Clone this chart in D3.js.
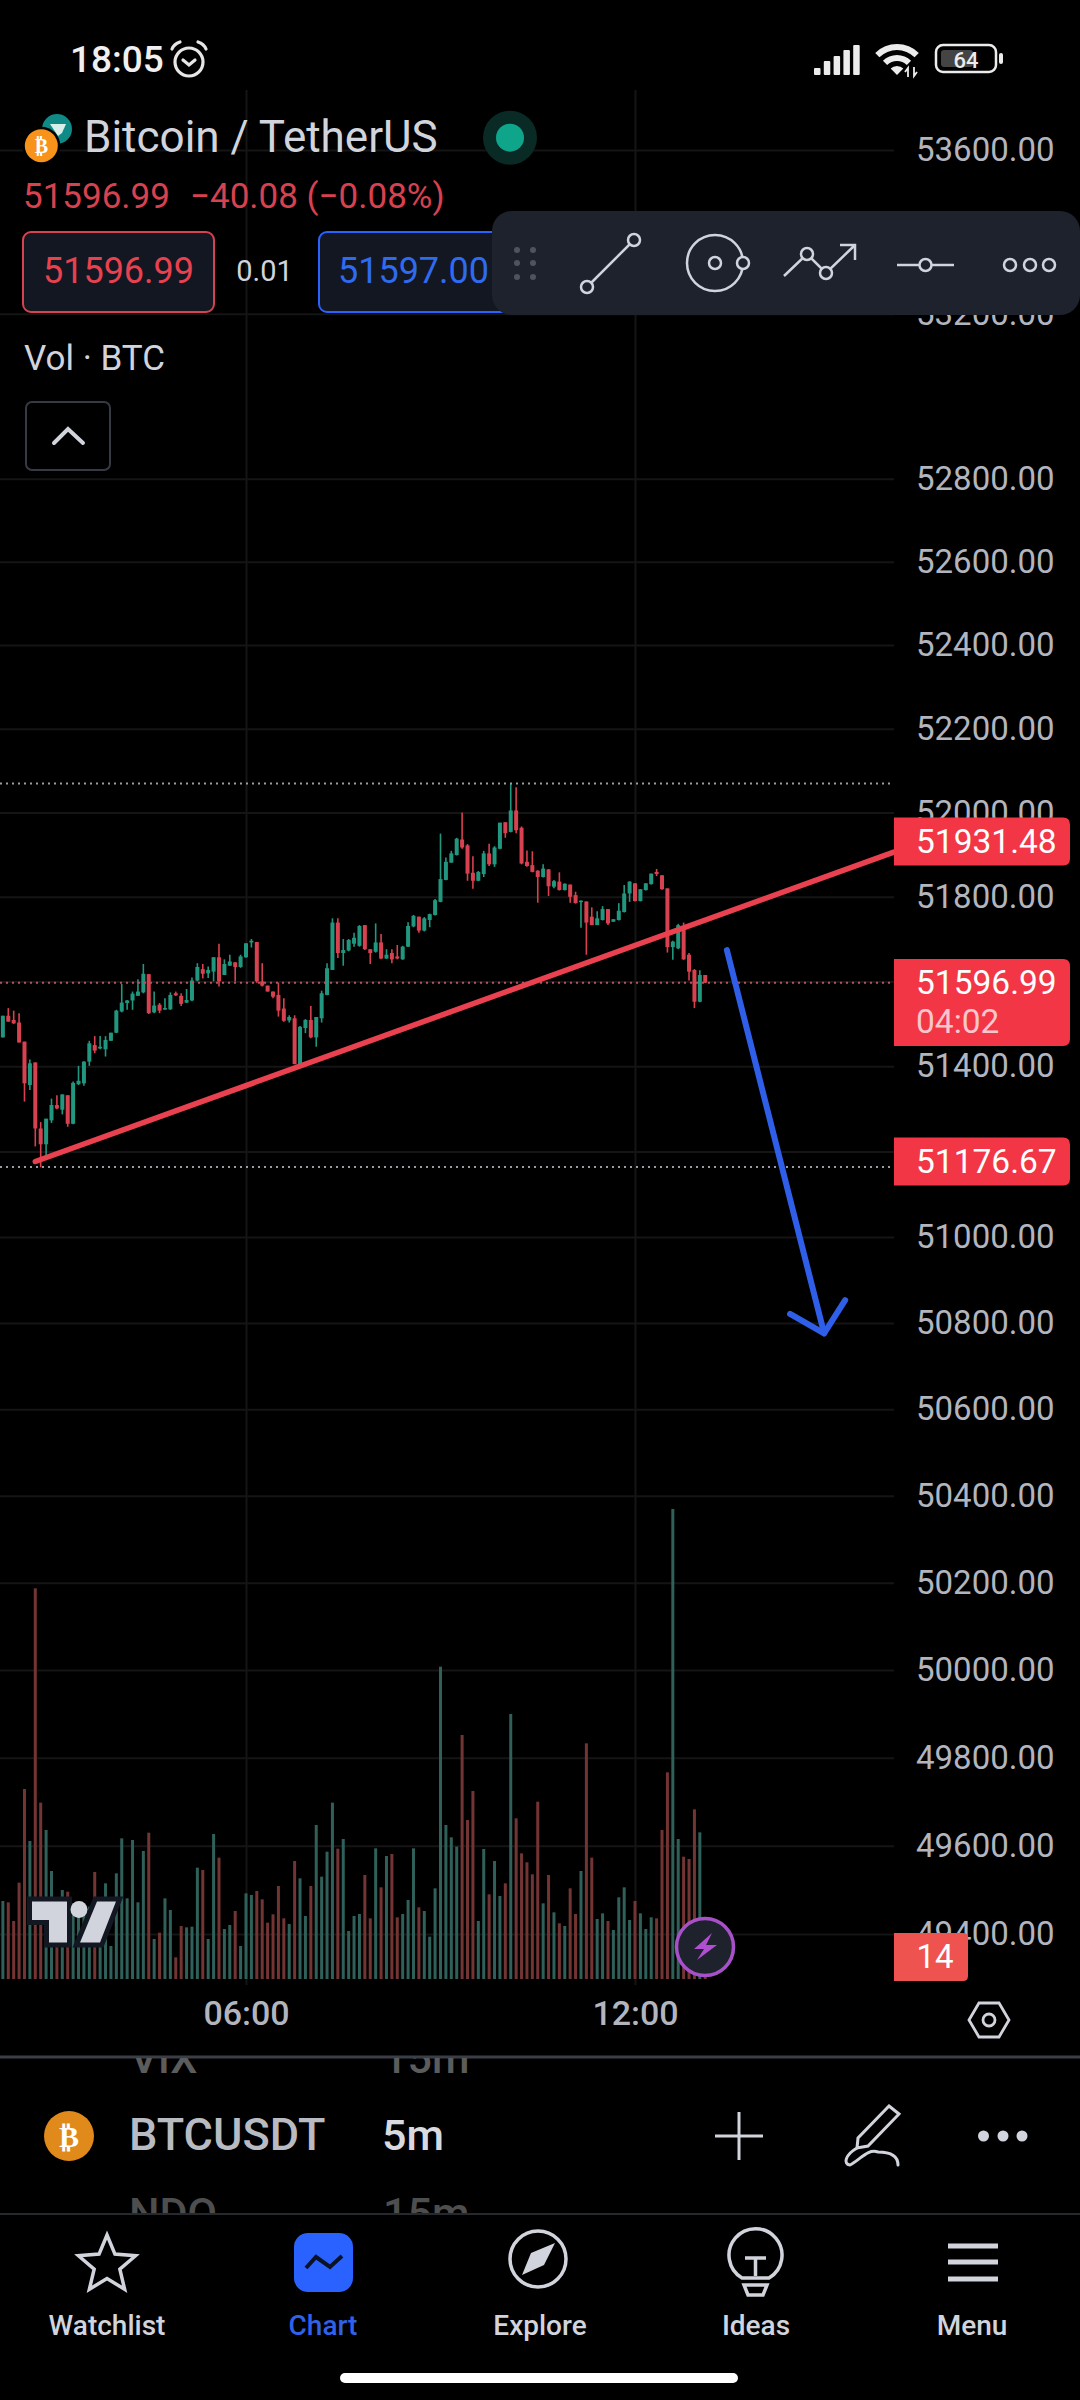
<!DOCTYPE html>
<html>
<head>
<meta charset="utf-8">
<title>BTCUSDT</title>
<script src="https://cdnjs.cloudflare.com/ajax/libs/d3/7.8.5/d3.min.js"></script>
<style>
  html, body { margin: 0; padding: 0; background: #000; }
  svg { display: block; font-family: Roboto, sans-serif; }
</style>
</head>
<body>
<svg id="chart" width="1080" height="2400"></svg>
<script>
// 5 minute candles, oldest first
var opens = [
  51468,51519,51509,51503,51458,51356,51409,51254,51217,51273,
  51309,51298,51332,51265,51358,51360,51411,51450,51442,51440,
  51460,51479,51529,51549,51555,51566,51574,51617,51527,51545,
  51534,51534,51572,51566,51550,51555,51602,51629,51619,51623,
  51657,51615,51637,51645,51634,51657,51692,51693,51600,51590,
  51576,51568,51536,51508,51513,51405,51490,51509,51468,51513,
  51568,51627,51739,51667,51673,51689,51684,51733,51676,51670,
  51692,51654,51667,51659,51652,51682,51730,51753,51720,51745,
  51757,51788,51840,51881,51899,51936,51922,51857,51838,51854,
  51903,51877,51914,51977,51954,52005,51964,51883,51875,51862,
  51847,51865,51824,51836,51816,51829,51804,51788,51789,51753,
  51733,51745,51771,51741,51745,51764,51808,51832,51790,51816,
  51830,51859,51851,51820,51681,51678,51726,51663,51627,51552,
  51615];
var highs = [
  51519,51537,51531,51525,51458,51416,51409,51269,51277,51324,
  51332,51334,51332,51364,51401,51412,51460,51471,51471,51471,
  51479,51533,51594,51556,51576,51605,51641,51617,51576,51549,
  51560,51574,51576,51572,51582,51609,51643,51641,51635,51657,
  51689,51652,51663,51645,51663,51690,51700,51693,51643,51590,
  51576,51597,51560,51520,51520,51495,51511,51542,51516,51578,
  51643,51749,51749,51700,51700,51715,51733,51733,51676,51737,
  51712,51676,51676,51686,51684,51740,51757,51753,51752,51760,
  51795,51950,51893,51909,51940,52000,51925,51896,51861,51909,
  51926,51920,51976,51977,52069,52060,51967,51910,51908,51863,
  51877,51866,51840,51858,51832,51829,51812,51791,51789,51775,
  51766,51778,51771,51747,51785,51828,51837,51832,51818,51832,
  51855,51866,51851,51820,51696,51736,51739,51667,51629,51626,
  51615];
var lows = [
  51468,51505,51500,51456,51317,51344,51212,51163,51187,51267,
  51299,51287,51258,51264,51356,51354,51401,51431,51440,51423,
  51460,51478,51527,51533,51533,51566,51572,51523,51525,51525,
  51533,51533,51566,51542,51549,51553,51600,51607,51608,51600,
  51588,51615,51637,51600,51632,51656,51680,51597,51588,51576,
  51560,51517,51505,51503,51405,51403,51478,51466,51446,51503,
  51567,51627,51655,51637,51671,51682,51682,51674,51641,51668,
  51652,51653,51643,51652,51651,51681,51728,51715,51718,51728,
  51756,51787,51839,51881,51898,51914,51838,51819,51837,51847,
  51873,51871,51913,51940,51953,51951,51877,51871,51858,51786,
  51846,51802,51820,51815,51815,51786,51784,51727,51663,51733,
  51733,51744,51733,51741,51744,51763,51788,51789,51789,51815,
  51829,51849,51817,51668,51651,51676,51651,51602,51537,51551,
  51596];
var closes = [
  51519,51505,51501,51456,51360,51407,51254,51217,51277,51309,
  51301,51334,51265,51361,51366,51411,51454,51437,51446,51462,
  51479,51531,51550,51555,51571,51576,51618,51525,51543,51531,
  51537,51568,51567,51547,51556,51602,51634,51618,51627,51657,
  51600,51641,51647,51634,51659,51690,51696,51600,51590,51576,
  51564,51531,51507,51516,51405,51493,51509,51468,51516,51572,
  51631,51739,51667,51674,51698,51703,51731,51676,51667,51692,
  51654,51663,51652,51654,51682,51731,51755,51720,51749,51759,
  51792,51842,51883,51903,51938,51917,51855,51838,51859,51903,
  51877,51917,51976,51951,52005,51958,51879,51873,51859,51847,
  51867,51825,51837,51816,51831,51800,51785,51791,51739,51733,
  51749,51771,51737,51747,51767,51808,51836,51790,51818,51832,
  51855,51854,51818,51681,51694,51733,51652,51623,51552,51615,
  51596.99];
var volumes = [
  234,230,174,289,570,414,1172,529,447,324,
  97,267,262,227,197,217,217,321,147,287,
  99,317,422,242,417,230,384,439,120,139,
  242,207,65,159,155,157,334,327,120,435,
  364,150,162,204,99,257,252,264,239,169,
  194,279,182,165,354,302,189,279,462,307,
  382,529,391,420,144,189,195,312,182,392,
  275,369,375,185,195,237,392,215,204,127,
  272,937,462,425,397,732,477,564,174,390,
  254,354,249,287,795,482,377,350,314,532,
  227,312,200,167,159,272,195,324,707,364,
  180,197,174,147,245,275,177,234,197,150,
  185,182,447,620,1410,420,367,360,509,440,
  47];

var priceTicks = [53600,53200,52800,52600,52400,52200,52000,51800,51600,51400,51200,51000,50800,50600,50400,50200,50000,49800,49600,49400];
var hiddenLabels = [51600, 51200]; // covered by the price tags in the app
var timeTicks = [45, 117];
var timeLabels = ["06:00", "12:00"];

var sessionHigh = 52069;
var sessionLow = 51164;
var lastPrice = 51596.99;

// drawings, bar index and price
var trendBars = [6, 164.9];
var trendPrices = [51176.67, 51906];
var arrowBars = [134, 152];
var arrowPrices = [51674, 50776];
var arrowHeadBars = [145.7, 155.9];
var arrowHeadPrices = [50821, 50853];

var tagPrices = [51931.48, 51176.67];

var UP = "#22977f", DOWN = "#d8414f", VOL_UP = "#2f6059", VOL_DOWN = "#733533";
var TAG = "#f23645", GRID = "#151515", TEXT = "#d1d4dc", AXIS_TEXT = "#b2b5be";

var svg = d3.select("#chart");
svg.append("rect").attr("width", 1080).attr("height", 2400).attr("fill", "#000");

var x = d3.scaleLinear().domain([45, 117]).range([246, 635]);
var y = d3.scaleLog().domain([50800, 53600]).range([1323, 150]);
var v = d3.scaleLinear().domain([0, 1410]).range([1979, 1509]);

// ---- grid
var gridH = svg.append("g").call(d3.axisRight(y).tickValues(priceTicks).tickSize(894).tickFormat(""));
gridH.select(".domain").remove();
gridH.selectAll("line").attr("stroke", GRID).attr("stroke-width", 2);

var gridV = svg.append("g").attr("transform", "translate(0,90)")
  .call(d3.axisBottom(x).tickValues(timeTicks).tickSize(1895).tickFormat(""));
gridV.select(".domain").remove();
gridV.selectAll("line").attr("stroke", GRID).attr("stroke-width", 2);

// ---- volume
svg.append("g").selectAll("rect").data(volumes).join("rect")
  .attr("x", (d, i) => x(i) - 1.5)
  .attr("width", 3)
  .attr("y", d => v(d))
  .attr("height", d => v(0) - v(d))
  .attr("fill", (d, i) => closes[i] >= opens[i] ? VOL_UP : VOL_DOWN);

// ---- candles
var candle = svg.append("g").selectAll("g").data(d3.range(opens.length)).join("g")
  .attr("fill", i => closes[i] >= opens[i] ? UP : DOWN)
  .attr("stroke", i => closes[i] >= opens[i] ? UP : DOWN);
candle.append("line")
  .attr("x1", i => x(i)).attr("x2", i => x(i))
  .attr("y1", i => y(highs[i])).attr("y2", i => y(lows[i]))
  .attr("stroke-width", 1.6);
candle.append("rect")
  .attr("stroke", "none")
  .attr("x", i => x(i) - 2)
  .attr("width", 4)
  .attr("y", i => y(Math.max(opens[i], closes[i])))
  .attr("height", i => Math.max(1.5, Math.abs(y(opens[i]) - y(closes[i]))));

// ---- high, low and last price lines
function dotted(price, color) {
  svg.append("line").attr("x1", 0).attr("x2", 894)
    .attr("y1", y(price)).attr("y2", y(price))
    .attr("stroke", color).attr("stroke-width", 2).attr("stroke-dasharray", "2 4");
}
dotted(sessionHigh, "#9a9ca3");
dotted(sessionLow, "#9a9ca3");
dotted(lastPrice, "#b9525a");

// ---- drawings
var priceLine = d3.line().x(d => x(d[0])).y(d => y(d[1]));
svg.append("path").attr("d", priceLine(d3.zip(trendBars, trendPrices)))
  .attr("stroke", "#ea4150").attr("stroke-width", 5.5).attr("stroke-linecap", "round").attr("fill", "none");
svg.append("path").attr("d", priceLine(d3.zip(arrowBars, arrowPrices)))
  .attr("stroke", "#2f5fe8").attr("stroke-width", 6).attr("stroke-linecap", "round").attr("fill", "none");
svg.append("path")
  .attr("d", priceLine([[arrowHeadBars[0], arrowHeadPrices[0]], [arrowBars[1], arrowPrices[1]], [arrowHeadBars[1], arrowHeadPrices[1]]]))
  .attr("stroke", "#2f5fe8").attr("stroke-width", 6).attr("stroke-linecap", "round").attr("stroke-linejoin", "round").attr("fill", "none");

// ---- axes
var yAxis = svg.append("g").attr("transform", "translate(916,0)")
  .call(d3.axisRight(y).tickValues(priceTicks.filter(p => hiddenLabels.indexOf(p) < 0)).tickSize(0).tickPadding(0).tickFormat(d => d.toFixed(2)));
yAxis.select(".domain").remove();
yAxis.selectAll("text").attr("fill", AXIS_TEXT).attr("font-size", 33).attr("font-family", "Roboto");

var xAxis = svg.append("g").attr("transform", "translate(0,2001)")
  .call(d3.axisBottom(x).tickValues(timeTicks).tickSize(0).tickPadding(0).tickFormat((d, i) => timeLabels[i]));
xAxis.select(".domain").remove();
xAxis.selectAll("text").attr("fill", AXIS_TEXT).attr("font-size", 34).attr("font-family", "Roboto").attr("font-weight", 500);

// ---- price tags
function tag(top, bottom, color) {
  var r = 7;
  svg.append("path").attr("fill", color || TAG)
    .attr("d", `M894,${top}H${1070 - r}Q1070,${top} 1070,${top + r}V${bottom - r}Q1070,${bottom} ${1070 - r},${bottom}H894Z`);
}
function label(txt, px, py, size, color, opts) {
  opts = opts || {};
  return svg.append("text").attr("x", px).attr("y", py).text(txt)
    .attr("font-size", size).attr("fill", color)
    .attr("font-weight", opts.weight || 400)
    .attr("text-anchor", opts.anchor || "start");
}
tag(y(tagPrices[0]) - 24, y(tagPrices[0]) + 24);
label(tagPrices[0].toFixed(2), 916, y(tagPrices[0]) + 11.5, 33.5, "#fff");
tag(959, 1046);
label(lastPrice.toFixed(2), 916, 994, 33.5, "#fff");
label("04:02", 916, 1033, 33.5, "#f9c6cb");
tag(y(tagPrices[1]) - 24, y(tagPrices[1]) + 24);
label(tagPrices[1].toFixed(2), 916, y(tagPrices[1]) + 11.5, 33.5, "#fff");

// volume tag
svg.append("path").attr("fill", "#ef5350").attr("d", "M894,1933H963Q968,1933 968,1938V1976Q968,1981 963,1981H894Z");
label("14", 935, 1968, 33, "#fff", {anchor: "middle"});

// ---- tradingview logo
var logo = svg.append("g");
var logoFill = "#d1d4dc", logoEdge = "#131722";
logo.append("path").attr("d", "M32,1901.5H67V1942.5H49V1920H32Z M116,1901.5H97L80,1942.5H100Z")
  .attr("fill", logoFill).attr("stroke", logoEdge).attr("stroke-width", 10).attr("paint-order", "stroke").attr("stroke-linejoin", "miter");
logo.append("circle").attr("cx", 79).attr("cy", 1909.5).attr("r", 8.5).attr("fill", logoFill);

// lightning badge
svg.append("circle").attr("cx", 705).attr("cy", 1947).attr("r", 28.5).attr("fill", "#1e222d").attr("stroke", "#a850c8").attr("stroke-width", 3.5);
svg.append("path").attr("d", "M712,1933L694,1949H704L697,1960L717,1945H706Z").attr("fill", "#b04fd0");

// ---- status bar
label("18:05", 70, 72, 37, "#f0f0f0", {weight: 500});
var alarm = svg.append("g").attr("fill", "none").attr("stroke", "#e6e6e6").attr("stroke-width", 3.2).attr("stroke-linecap", "round");
alarm.append("circle").attr("cx", 189).attr("cy", 62).attr("r", 14);
alarm.append("path").attr("d", "M183,60L189,65L195,60");
alarm.append("path").attr("d", "M172,49Q174,44 180,42 M206,49Q204,44 198,42");

var signalHeights = [7, 14, 19, 25, 30];
svg.append("g").selectAll("rect").data(signalHeights).join("rect")
  .attr("x", (d, i) => 814 + i * 9.8).attr("width", 6.5)
  .attr("y", d => 75 - d).attr("height", d => d).attr("rx", 1).attr("fill", "#ececec");

var wifiArc = d3.arc().startAngle(-0.78).endAngle(0.78);
[[25, 31], [14, 20]].forEach(function (r) {
  svg.append("path").attr("transform", "translate(897,75)").attr("fill", "#ececec")
    .attr("d", wifiArc({innerRadius: r[0], outerRadius: r[1]}));
});
svg.append("path").attr("transform", "translate(897,75)").attr("fill", "#ececec")
  .attr("d", wifiArc({innerRadius: 0, outerRadius: 9}));
svg.append("path").attr("d", "M908,77V68L905,72 M914,67V76L917,72").attr("stroke", "#ececec").attr("stroke-width", 1.8).attr("fill", "none");

svg.append("rect").attr("x", 936).attr("y", 45).attr("width", 60).attr("height", 27).attr("rx", 7).attr("fill", "none").attr("stroke", "#ececec").attr("stroke-width", 2.5);
svg.append("rect").attr("x", 941).attr("y", 50).attr("width", 32).attr("height", 17).attr("rx", 3).attr("fill", "#444");
svg.append("rect").attr("x", 999).attr("y", 53).attr("width", 4).attr("height", 11).attr("rx", 2).attr("fill", "#ececec");
label("64", 966, 68, 22, "#ececec", {anchor: "middle", weight: 500});

// ---- header
function coin(cx, cy, r, fill, txt, size) {
  svg.append("circle").attr("cx", cx).attr("cy", cy).attr("r", r).attr("fill", fill);
  if (txt) svg.append("text").attr("x", cx).attr("y", cy + size * 0.36).attr("text-anchor", "middle")
    .attr("font-size", size).attr("font-weight", 700).attr("font-family", "DejaVu Sans").attr("fill", "#fff").text(txt);
}
coin(57, 129, 15, "#0f8a86");
svg.append("path").attr("d", "M50,124H66L62,133L58,136Z").attr("fill", "#d7eeea");
svg.append("circle").attr("cx", 41.3).attr("cy", 145.7).attr("r", 19).attr("fill", "#000");
coin(41.3, 145.7, 16.5, "#f7931a", "₿", 20);

label("Bitcoin / TetherUS", 84, 152, 44, TEXT);

svg.append("circle").attr("cx", 510).attr("cy", 137.7).attr("r", 27).attr("fill", "#0a2a25");
svg.append("circle").attr("cx", 510).attr("cy", 137.7).attr("r", 14).attr("fill", "#0fa58a");

label("51596.99", 23, 208, 35, "#d8414f");
label("−40.08 (−0.08%)", 190, 208, 35, "#d8414f");

svg.append("rect").attr("x", 23).attr("y", 232).attr("width", 191).attr("height", 80).attr("rx", 8)
  .attr("fill", "#131722").attr("stroke", "#d8414f").attr("stroke-width", 2);
label("51596.99", 118.5, 283, 36, "#e8414f", {anchor: "middle"});
label("0.01", 264.5, 281, 29, TEXT, {anchor: "middle"});
svg.append("rect").attr("x", 319).attr("y", 232).attr("width", 200).attr("height", 80).attr("rx", 8)
  .attr("fill", "#131722").attr("stroke", "#2962ff").attr("stroke-width", 2);
label("51597.00", 413.5, 283, 36, "#2f6bf0", {anchor: "middle"});

label("Vol · BTC", 24, 370, 35, TEXT);
svg.append("rect").attr("x", 26).attr("y", 402).attr("width", 84).attr("height", 68).attr("rx", 6)
  .attr("fill", "#000").attr("stroke", "#363a45").attr("stroke-width", 2);
svg.append("path").attr("d", "M54,443L68,429L83,443").attr("fill", "none").attr("stroke", TEXT).attr("stroke-width", 4).attr("stroke-linecap", "round");

// ---- floating drawing toolbar
svg.append("rect").attr("x", 492).attr("y", 211).attr("width", 588).attr("height", 104).attr("rx", 20).attr("fill", "#1e222d");
[517, 533].forEach(function (gx) {
  [250, 263, 277].forEach(function (gy) {
    svg.append("circle").attr("cx", gx).attr("cy", gy).attr("r", 3).attr("fill", "#50535e");
  });
});
var tool = svg.append("g").attr("fill", "none").attr("stroke", TEXT).attr("stroke-width", 2.5);
function knob(cx, cy) {
  tool.append("circle").attr("cx", cx).attr("cy", cy).attr("r", 6).attr("fill", "#1e222d");
}
tool.append("path").attr("d", "M587,287L634,240"); knob(587, 287); knob(634, 240);
tool.append("circle").attr("cx", 715).attr("cy", 263).attr("r", 28); knob(715, 263); knob(743, 263);
tool.append("path").attr("d", "M784,276L807,254L826,273L855,245M840,245H855V260"); knob(807, 254); knob(826, 273);
tool.append("path").attr("d", "M897,265H954"); knob(925.5, 265);
knob(1010, 265); knob(1030, 265); knob(1049, 265);

// hexagon settings
svg.append("path").attr("d", "M969,2020L979,2003H999L1009,2020L999,2037H979Z").attr("fill", "none").attr("stroke", TEXT).attr("stroke-width", 2.8);
svg.append("circle").attr("cx", 989).attr("cy", 2020).attr("r", 6).attr("fill", "none").attr("stroke", TEXT).attr("stroke-width", 2.8);

// ---- symbol row with the scrolling picker behind it
svg.append("rect").attr("x", 0).attr("y", 2055.5).attr("width", 1080).attr("height", 3).attr("fill", "#3a3e47");
svg.append("clipPath").attr("id", "rowClip").append("rect").attr("x", 0).attr("y", 2058).attr("width", 1080).attr("height", 155);
var picker = svg.append("g").attr("clip-path", "url(#rowClip)");
[["VIX", 130, 2073, "#5c5c5c"], ["15m", 383, 2073, "#5c5c5c"], ["NDQ", 129, 2228, "#4e4e4e"], ["15m", 383, 2228, "#4e4e4e"]].forEach(function (d) {
  picker.append("text").attr("x", d[1]).attr("y", d[2]).attr("font-size", 43).attr("font-weight", 500).attr("fill", d[3]).text(d[0]);
});
svg.append("rect").attr("x", 0).attr("y", 2213).attr("width", 1080).attr("height", 2).attr("fill", "#26292f");

coin(69, 2136, 25, "#e08a1c", "₿", 30);
label("BTCUSDT", 129, 2150, 45, "#b9bbc2", {weight: 500});
label("5m", 382, 2150, 43, "#d8dae0", {weight: 500});

var rowIcons = svg.append("g").attr("stroke", TEXT).attr("fill", "none").attr("stroke-width", 3);
rowIcons.append("path").attr("d", "M739,2112V2160M715,2136H763");
rowIcons.append("path").attr("d", "M889,2106L899,2114L868,2146L857,2148L858,2138Z");
rowIcons.append("path").attr("d", "M857,2148C845,2155 843,2164 850,2165C860,2160 868,2148 878,2152C894,2152 898,2158 898,2165").attr("stroke-linecap", "round");
[983.5, 1003, 1022].forEach(function (cx) {
  svg.append("circle").attr("cx", cx).attr("cy", 2136).attr("r", 5.5).attr("fill", TEXT);
});

// ---- bottom navigation
var navNames = ["Watchlist", "Chart", "Explore", "Ideas", "Menu"];
var navX = [107, 323, 540, 756, 972];
navNames.forEach(function (n, i) {
  label(n, navX[i], 2335, 28, n === "Chart" ? "#2f62e8" : TEXT, {anchor: "middle", weight: 500});
});

var star = d3.range(10).map(function (i) {
  var a = -Math.PI / 2 + i * Math.PI / 5, r = i % 2 ? 13.5 : 30;
  return [107 + r * Math.cos(a), 2265 + r * Math.sin(a)];
});
var nav = svg.append("g").attr("fill", "none").attr("stroke", TEXT).attr("stroke-width", 3.5);
nav.append("path").attr("d", d3.line()(star) + "Z").attr("stroke-linejoin", "miter");

svg.append("rect").attr("x", 294).attr("y", 2233).attr("width", 59).attr("height", 59).attr("rx", 14).attr("fill", "#2962ff");
svg.append("path").attr("d", "M306,2268L316,2257L330,2267L342,2256").attr("fill", "none").attr("stroke", "#0c1326").attr("stroke-width", 4);

nav.append("circle").attr("cx", 538).attr("cy", 2259).attr("r", 28);
svg.append("path").attr("d", "M555,2243L544,2265L522,2275L531,2253Z").attr("fill", TEXT);

nav.append("path").attr("d", "M742,2278A26.5,26.5 0 1 1 769,2278Z");
nav.append("path").attr("d", "M745,2258H766M755.5,2258V2276");
nav.append("path").attr("d", "M744,2285H767L763,2295H748Z");

[2246, 2262, 2279].forEach(function (ly) {
  svg.append("rect").attr("x", 948).attr("y", ly - 2.5).attr("width", 50).attr("height", 5).attr("fill", TEXT);
});

// home indicator
svg.append("rect").attr("x", 340).attr("y", 2373).attr("width", 398).attr("height", 10).attr("rx", 5).attr("fill", "#fff");
</script>
</body>
</html>
